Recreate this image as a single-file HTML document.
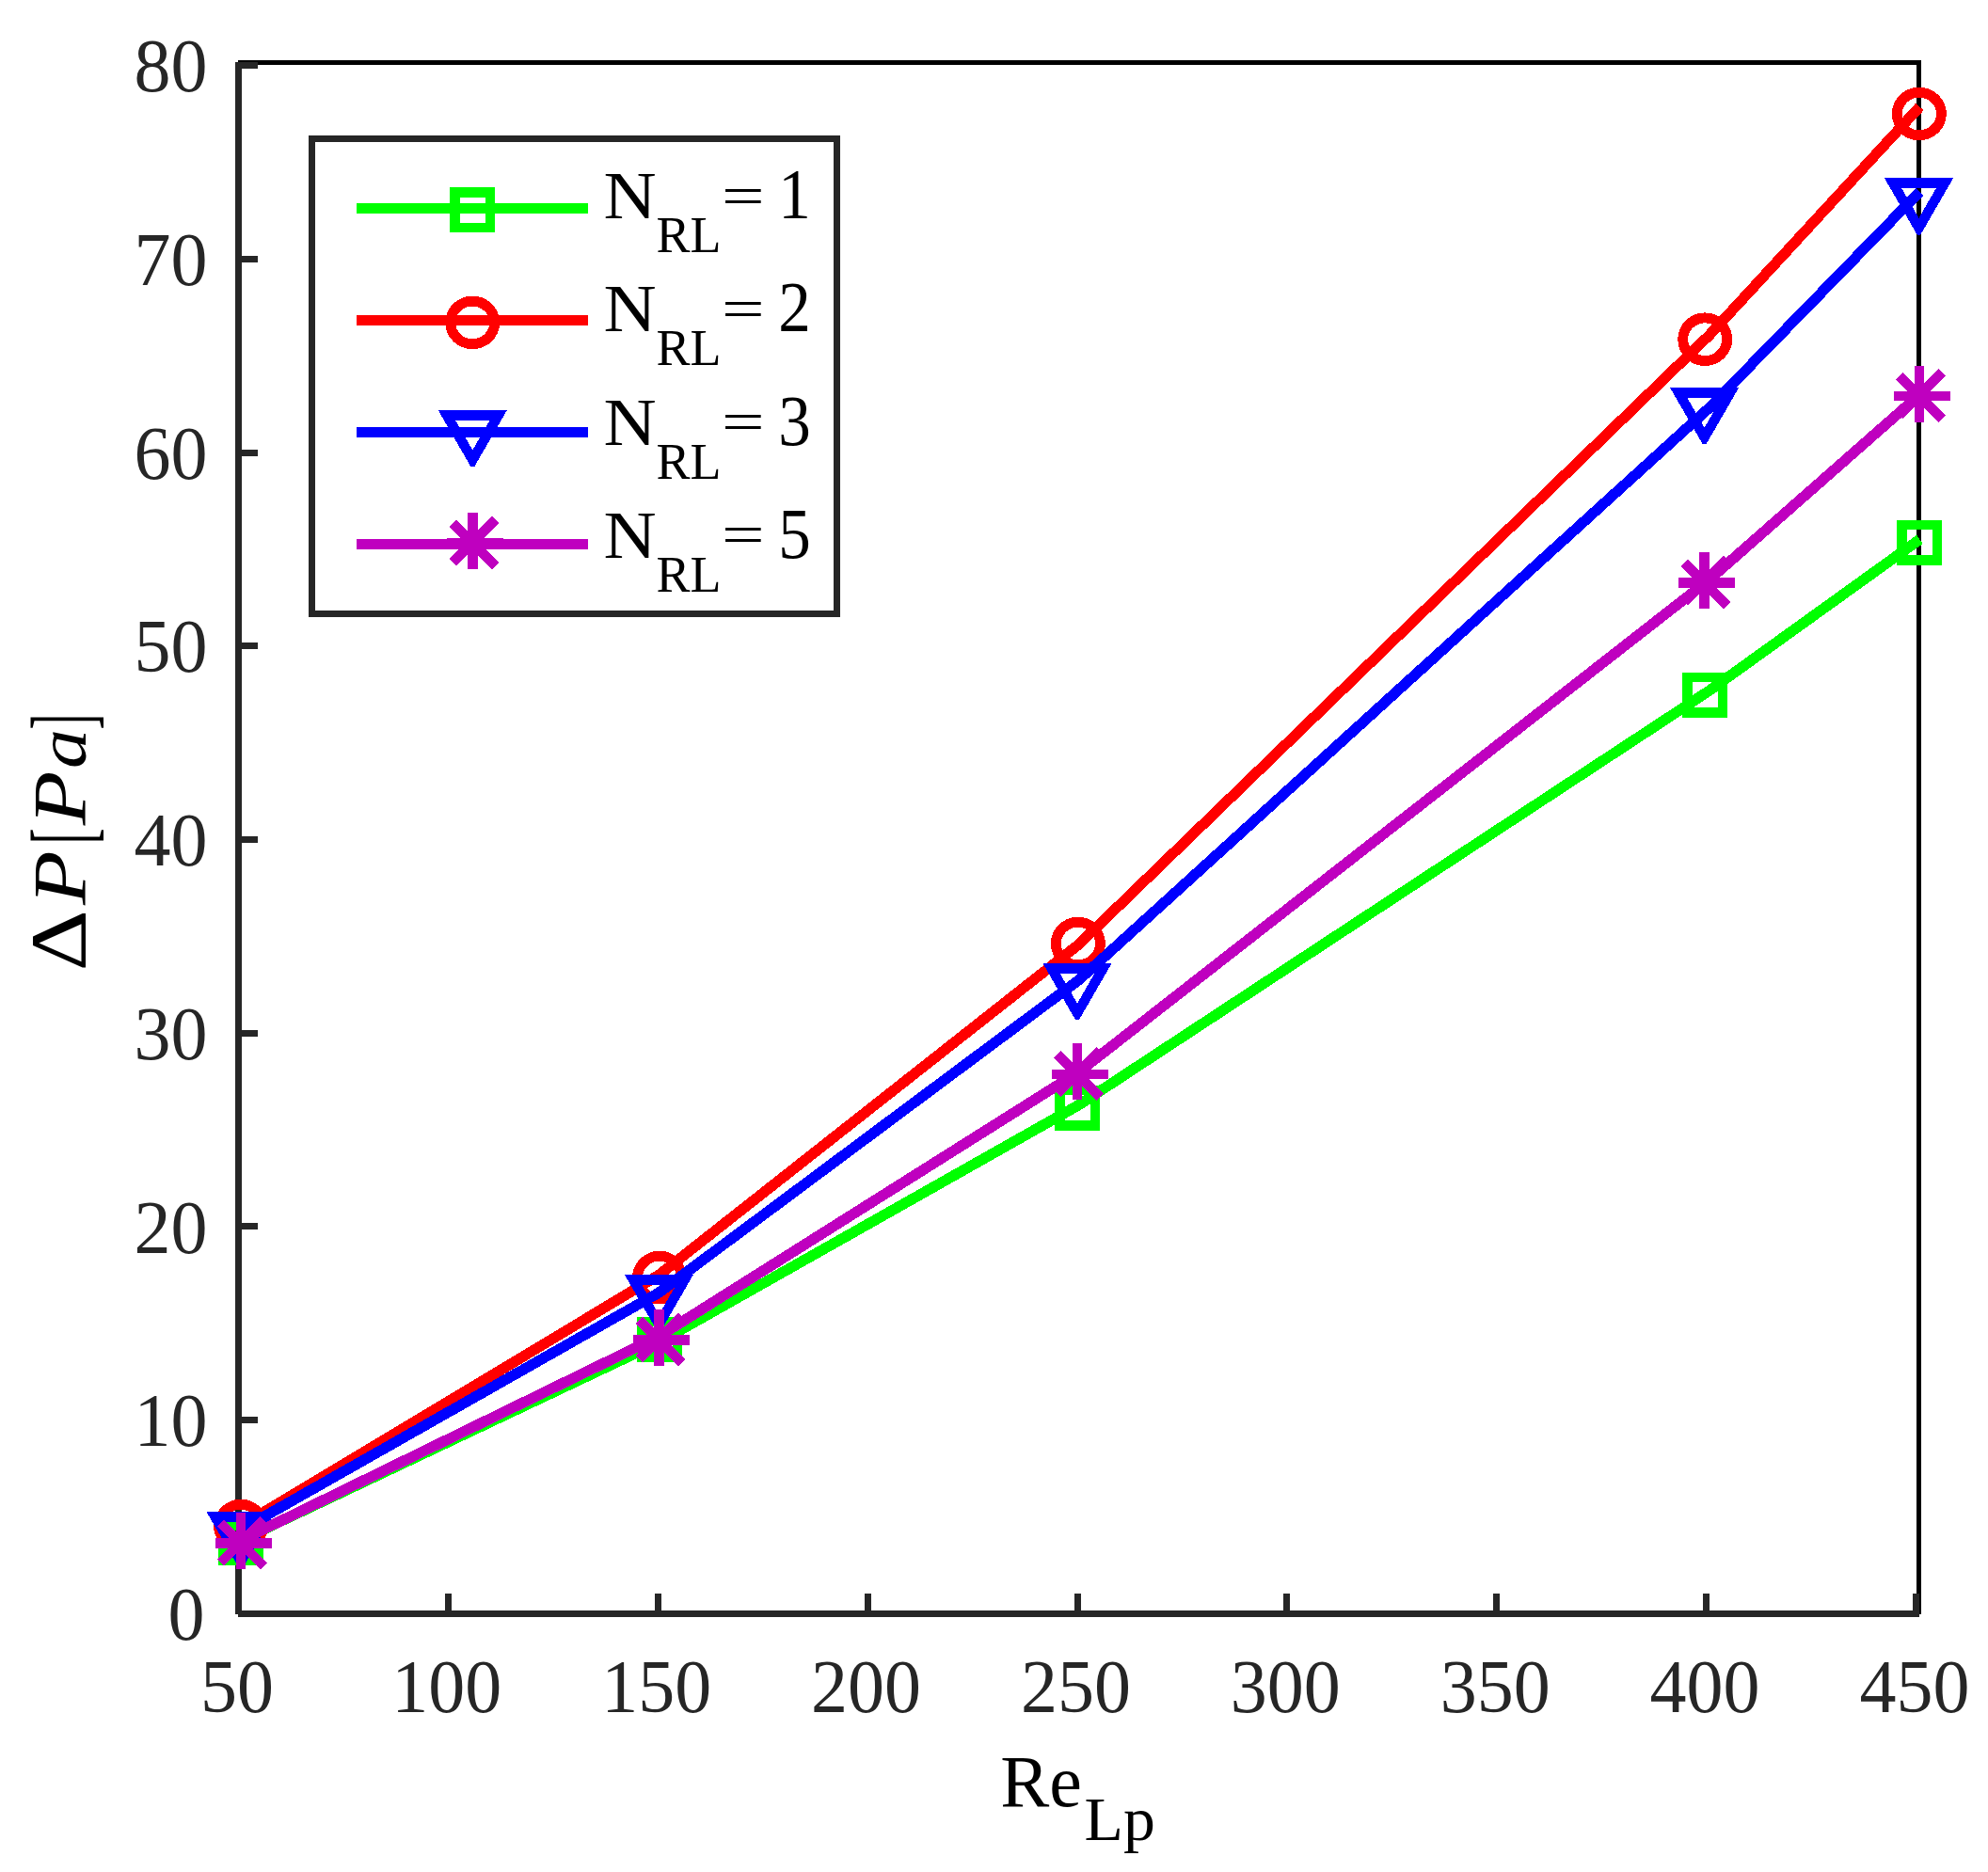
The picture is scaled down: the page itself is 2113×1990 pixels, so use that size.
<!DOCTYPE html>
<html lang="en"><head><meta charset="utf-8"><title>Pressure drop vs Reynolds number</title>
<style>html,body{margin:0;padding:0;background:#fff}body{width:2113px;height:1990px;overflow:hidden}svg{display:block}text{font-family:"Liberation Serif","DejaVu Serif",serif}.tk{font-size:78px;fill:#262626}.lg{font-size:72px;fill:#000}.lgs{font-size:54px;fill:#000}</style></head><body>
<svg width="2113" height="1990" viewBox="0 0 2113 1990">
<rect width="2113" height="1990" fill="#fff"/>
<g shape-rendering="crispEdges">
<rect x="253" y="64" width="1789" height="5" fill="#000"/>
<rect x="2037" y="64" width="5" height="1651.5" fill="#000"/>
<rect x="250" y="66" width="7" height="1649.5" fill="#262626"/>
<rect x="253" y="1712" width="1787" height="7" fill="#262626"/>
<rect x="250" y="1506" width="24" height="7" fill="#262626"/>
<rect x="250" y="1300" width="24" height="7" fill="#262626"/>
<rect x="250" y="1095" width="24" height="7" fill="#262626"/>
<rect x="250" y="889" width="24" height="7" fill="#262626"/>
<rect x="250" y="683" width="24" height="7" fill="#262626"/>
<rect x="250" y="478" width="24" height="7" fill="#262626"/>
<rect x="250" y="272" width="24" height="7" fill="#262626"/>
<rect x="250" y="66" width="24" height="7" fill="#262626"/>
<rect x="473" y="1694" width="7" height="25" fill="#262626"/>
<rect x="696" y="1694" width="7" height="25" fill="#262626"/>
<rect x="919" y="1694" width="7" height="25" fill="#262626"/>
<rect x="1142" y="1694" width="7" height="25" fill="#262626"/>
<rect x="1364" y="1694" width="7" height="25" fill="#262626"/>
<rect x="1587" y="1694" width="7" height="25" fill="#262626"/>
<rect x="1810" y="1694" width="7" height="25" fill="#262626"/>
<rect x="2033" y="1694" width="7" height="25" fill="#262626"/>
</g>
<text class="tk" transform="translate(217.6 1743.1) scale(1 1.04)" text-anchor="end">0</text>
<text class="tk" transform="translate(220.6 1537.35) scale(1 1.04)" text-anchor="end">10</text>
<text class="tk" transform="translate(220.6 1331.6) scale(1 1.04)" text-anchor="end">20</text>
<text class="tk" transform="translate(220.6 1125.85) scale(1 1.04)" text-anchor="end">30</text>
<text class="tk" transform="translate(220.6 920.1) scale(1 1.04)" text-anchor="end">40</text>
<text class="tk" transform="translate(220.6 714.35) scale(1 1.04)" text-anchor="end">50</text>
<text class="tk" transform="translate(220.6 508.6) scale(1 1.04)" text-anchor="end">60</text>
<text class="tk" transform="translate(220.6 302.85) scale(1 1.04)" text-anchor="end">70</text>
<text class="tk" transform="translate(220.6 97.1) scale(1 1.04)" text-anchor="end">80</text>
<text class="tk" transform="translate(251.9 1820) scale(1 1.04)" text-anchor="middle">50</text>
<text class="tk" transform="translate(474.77 1820) scale(1 1.04)" text-anchor="middle">100</text>
<text class="tk" transform="translate(697.65 1820) scale(1 1.04)" text-anchor="middle">150</text>
<text class="tk" transform="translate(920.52 1820) scale(1 1.04)" text-anchor="middle">200</text>
<text class="tk" transform="translate(1143.4 1820) scale(1 1.04)" text-anchor="middle">250</text>
<text class="tk" transform="translate(1366.28 1820) scale(1 1.04)" text-anchor="middle">300</text>
<text class="tk" transform="translate(1589.15 1820) scale(1 1.04)" text-anchor="middle">350</text>
<text class="tk" transform="translate(1812.02 1820) scale(1 1.04)" text-anchor="middle">400</text>
<text class="tk" transform="translate(2034.9 1820) scale(1 1.04)" text-anchor="middle">450</text>
<g shape-rendering="crispEdges">
<polyline fill="none" stroke="#00ff00" stroke-width="11.3" stroke-linejoin="miter" points="254,1638.2 700.5,1426.75 1147,1174.4 1816.75,734.2 2040.4,573.4"/>
<rect x="237.35" y="1621.25" width="37.5" height="37.5" fill="none" stroke="#00ff00" stroke-width="10.5"/>
<rect x="682.25" y="1405.05" width="37.5" height="37.5" fill="none" stroke="#00ff00" stroke-width="10.5"/>
<rect x="1126.25" y="1158.85" width="37.5" height="37.5" fill="none" stroke="#00ff00" stroke-width="10.5"/>
<rect x="1793.35" y="719.85" width="37.5" height="37.5" fill="none" stroke="#00ff00" stroke-width="10.5"/>
<rect x="2021.55" y="558.15" width="37.5" height="37.5" fill="none" stroke="#00ff00" stroke-width="10.5"/>
<polyline fill="none" stroke="#ff0000" stroke-width="11.3" stroke-linejoin="miter" points="254,1623.4 700.5,1355.25 1147,1003.6 1816.75,356.4 2040.4,113.5"/>
<ellipse cx="256" cy="1622" rx="23.5" ry="22.8" fill="none" stroke="#ff0000" stroke-width="10.9"/>
<ellipse cx="701" cy="1358" rx="23.5" ry="22.8" fill="none" stroke="#ff0000" stroke-width="10.9"/>
<ellipse cx="1145.9" cy="1003" rx="23.5" ry="22.8" fill="none" stroke="#ff0000" stroke-width="10.9"/>
<ellipse cx="1812.2" cy="360.7" rx="23.5" ry="22.8" fill="none" stroke="#ff0000" stroke-width="10.9"/>
<ellipse cx="2039.9" cy="121" rx="23.5" ry="22.8" fill="none" stroke="#ff0000" stroke-width="10.9"/>
<polyline fill="none" stroke="#0000ff" stroke-width="11.3" stroke-linejoin="miter" points="254,1627.4 700.5,1374.05 1147,1041.5 1816.75,433.5 2040.4,203.8"/>
<path fill-rule="evenodd" fill="#0000ff" d="M219.4 1607L292.6 1607L257.85 1667.2L254.15 1667.2ZM237.75 1617.9L274.25 1617.9L256 1649.5Z"/>
<path fill-rule="evenodd" fill="#0000ff" d="M663.8 1354.9L737 1354.9L702.25 1415.1L698.55 1415.1ZM682.15 1365.8L718.65 1365.8L700.4 1397.4Z"/>
<path fill-rule="evenodd" fill="#0000ff" d="M1108.4 1024.1L1181.6 1024.1L1146.85 1084.3L1143.15 1084.3ZM1126.75 1035L1163.25 1035L1145 1066.6Z"/>
<path fill-rule="evenodd" fill="#0000ff" d="M1775 412.1L1848.2 412.1L1813.45 472.3L1809.75 472.3ZM1793.35 423L1829.85 423L1811.6 454.6Z"/>
<path fill-rule="evenodd" fill="#0000ff" d="M2002.9 189.3L2076.1 189.3L2041.35 249.5L2037.65 249.5ZM2021.25 200.2L2057.75 200.2L2039.5 231.8Z"/>
<polyline fill="none" stroke="#bf00bf" stroke-width="11.3" stroke-linejoin="miter" points="254,1638.5 700.5,1420.5 1147,1139.2 1816.75,616.2 2040.4,419.5"/>
<path d="M256 1608V1668M228.5 1640.5H288.5M234.7 1619.2L280.3 1664.8M234.6 1661L280.2 1615.4" fill="none" stroke="#bf00bf" stroke-width="10.5"/>
<path d="M700.5 1392V1452M673 1424.5H733M679.2 1403.2L724.8 1448.8M679.1 1445L724.7 1399.4" fill="none" stroke="#bf00bf" stroke-width="10.5"/>
<path d="M1145 1109.3V1169.3M1117.5 1141.8H1177.5M1123.7 1120.5L1169.3 1166.1M1123.6 1162.3L1169.2 1116.7" fill="none" stroke="#bf00bf" stroke-width="10.5"/>
<path d="M1811.5 586.8V646.8M1784 619.3H1844M1790.2 598L1835.8 643.6M1790.1 639.8L1835.7 594.2" fill="none" stroke="#bf00bf" stroke-width="10.5"/>
<path d="M2040 388.6V448.6M2012.5 421.1H2072.5M2018.7 399.8L2064.3 445.4M2018.6 441.6L2064.2 396" fill="none" stroke="#bf00bf" stroke-width="10.5"/>
</g>
<rect x="331.5" y="147.5" width="558" height="505" fill="#fff" stroke="#262626" stroke-width="7" shape-rendering="crispEdges"/>
<g shape-rendering="crispEdges">
<line x1="379" y1="221.4" x2="625" y2="221.4" stroke="#00ff00" stroke-width="11"/>
<line x1="379" y1="340.4" x2="625" y2="340.4" stroke="#ff0000" stroke-width="11"/>
<line x1="379" y1="459.4" x2="625" y2="459.4" stroke="#0000ff" stroke-width="11"/>
<line x1="379" y1="578.5" x2="625" y2="578.5" stroke="#bf00bf" stroke-width="11"/>
<rect x="483.25" y="204.25" width="37.5" height="37.5" fill="none" stroke="#00ff00" stroke-width="10.5"/>
<ellipse cx="502.2" cy="342.9" rx="23.5" ry="22.8" fill="none" stroke="#ff0000" stroke-width="10.9"/>
<path fill-rule="evenodd" fill="#0000ff" d="M465.7 436L538.9 436L504.15 496.2L500.45 496.2ZM484.05 446.9L520.55 446.9L502.3 478.5Z"/>
<path d="M502.5 545V605M475 577.5H535M481.2 556.2L526.8 601.8M481.1 598L526.7 552.4" fill="none" stroke="#bf00bf" stroke-width="10.5"/>
</g>
<text class="lg" transform="translate(641.5 231.7) scale(1.08 1)">N</text>
<text class="lgs" x="697.5" y="267.7">RL</text>
<text class="lg" transform="translate(767 227.5) scale(1.125 0.83)">=</text>
<text class="lg" transform="translate(844.5 231.7) scale(0.96 1.045)" text-anchor="middle">1</text>
<text class="lg" transform="translate(641.5 352.1) scale(1.08 1)">N</text>
<text class="lgs" x="697.5" y="388.1">RL</text>
<text class="lg" transform="translate(767 347.9) scale(1.125 0.83)">=</text>
<text class="lg" transform="translate(844.5 352.1) scale(0.96 1.045)" text-anchor="middle">2</text>
<text class="lg" transform="translate(641.5 472.5) scale(1.08 1)">N</text>
<text class="lgs" x="697.5" y="508.5">RL</text>
<text class="lg" transform="translate(767 468.3) scale(1.125 0.83)">=</text>
<text class="lg" transform="translate(844.5 472.5) scale(0.96 1.045)" text-anchor="middle">3</text>
<text class="lg" transform="translate(641.5 592.6) scale(1.08 1)">N</text>
<text class="lgs" x="697.5" y="628.6">RL</text>
<text class="lg" transform="translate(767 588.4) scale(1.125 0.83)">=</text>
<text class="lg" transform="translate(844.5 592.6) scale(0.96 1.045)" text-anchor="middle">5</text>
<text x="1063.2" y="1919.8" font-size="78" fill="#000">Re</text>
<text transform="translate(1152.6 1955.5) scale(1.035 1)" font-size="65.5" fill="#000">Lp</text>
<g transform="translate(90.7 1029) rotate(-90)" fill="#000" font-size="80">
<text transform="translate(-3.4 0) scale(1.27 1.06)">Δ</text>
<text transform="translate(67 0) scale(1.18 1)" font-style="italic">P</text>
<text transform="translate(131.8 7) scale(0.63 1.16)">[</text>
<text transform="translate(151.7 0) scale(1.18 1)" font-style="italic">P</text>
<text transform="translate(212 0) scale(1.05 0.93)" font-style="italic">a</text>
<text transform="translate(253.4 7) scale(0.63 1.16)">]</text>
</g>
</svg></body></html>
